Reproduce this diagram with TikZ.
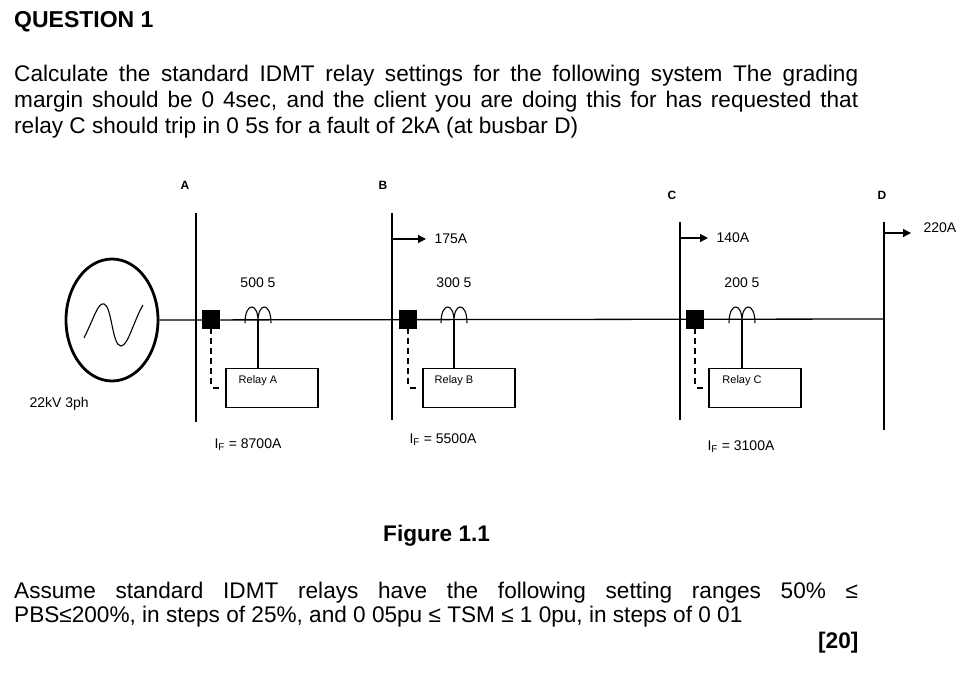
\documentclass[tikz,border=0pt]{standalone}
\usepackage{fontspec}
\setmainfont{Liberation Sans}
\usetikzlibrary{arrows.meta,shapes.geometric}
\begin{document}
\begin{tikzpicture}[x=1pt,y=-1pt,
  bus/.style={line width=2.4pt},
  wire/.style={line width=1.3pt},
  brk/.style={fill=black,draw=black,minimum width=17pt,minimum height=18pt,inner sep=0pt},
  relay/.style={draw,line width=1.1pt,minimum width=92pt,minimum height=39pt,inner sep=0pt},
  small/.style={font=\fontsize{14}{16}\selectfont},
  lbl/.style={font=\bfseries\fontsize{12}{14}\selectfont},
  body/.style={anchor=base west,inner sep=0pt,font=\fontsize{22.6}{26}\selectfont},
  load/.style={wire,-{Triangle[length=8pt,width=8pt]}}]
\useasboundingbox (0,0) rectangle (967,682);
% text
\node[body,font=\fontsize{23}{26}\selectfont\bfseries] (q) at (14,28) {QUESTION 1};
\node[body] (p1) at (14,82) {\makebox[844pt][s]{Calculate the standard IDMT relay settings for the following system  The grading}};
\node[body] (p2) at (14,108) {\makebox[844pt][s]{margin should be 0 4sec, and the client you are doing this for has requested that}};
\node[body] (p3) at (14,134) {relay C should trip in 0 5s for a fault of 2kA (at busbar D)};
\node[body,font=\fontsize{22.6}{26}\selectfont\bfseries] (fig) at (383,541) {Figure 1.1};
\node[body] (b1) at (14,598) {\makebox[844pt][s]{Assume  standard  IDMT  relays  have  the  following  setting  ranges  50\%  ≤}};
\node[body] (b2) at (14,622) {PBS≤200\%, in steps of 25\%, and 0 05pu ≤ TSM ≤ 1 0pu, in steps of 0 01};
\node[body,font=\fontsize{22.6}{26}\selectfont\bfseries] (mk) at (818,648) {[20]};
% generator
\node[draw,ellipse,line width=2.8pt,minimum width=92pt,minimum height=122pt,inner sep=0pt] (gen) at (112,320) {};
\draw[line width=1.1pt] (84,338) .. controls (94,318) and (98,302) .. (104,304) .. controls (112,306) and (112,346) .. (121,346) .. controls (128,346) and (134,320) .. (143,305);
\node[small,anchor=west] (kv) at (26,404) {22kV 3ph};
% busbars
\coordinate (At) at (196,213); \coordinate (Ab) at (196,422);
\coordinate (Bt) at (392,213); \coordinate (Bb) at (392,420);
\coordinate (Ct) at (680,222); \coordinate (Cb) at (680,420);
\coordinate (Dt) at (884,222); \coordinate (Db) at (884,430);
\draw[bus] (At)--(Ab); \draw[bus] (Bt)--(Bb); \draw[bus] (Ct)--(Cb); \draw[bus] (Dt)--(Db);
\node[lbl] (lA) at (185,185) {A};
\node[lbl] (lB) at (383,185) {B};
\node[lbl] (lC) at (672,195) {C};
\node[lbl] (lD) at (882,195) {D};
% main line
\coordinate (Dm) at (884,319);
\draw[wire] (gen.east) -- (Dm);
% loads
\coordinate (b1s) at (393,239); \coordinate (b1e) at (426,239);
\draw[load] (b1s) -- (b1e); \node[small,anchor=west] (l175) at (431,239) {175A};
\coordinate (c1s) at (681,238); \coordinate (c1e) at (708,238);
\draw[load] (c1s) -- (c1e); \node[small,anchor=west] (l140) at (713,238) {140A};
\coordinate (d1s) at (885,233); \coordinate (d1e) at (911,233);
\draw[load] (d1s) -- (d1e); \node[small,anchor=west] (l220) at (920,228) {220A};
% bays
\foreach \n/\bx/\cx/\rx/\ctv/\lab/\fx/\fy/\fv in {A/211/258/272/500 5/Relay A/248/445/8700A, B/408/454/469/300 5/Relay B/443/440/5500A, C/695/742/755/200 5/Relay C/741/447/3100A}{
  \node[brk] (br\n) at (\bx,319) {};
  \draw[line width=1.1pt] (\cx-13,323) .. controls (\cx-13,302) and (\cx,302) .. (\cx,321) .. controls (\cx,302) and (\cx+13,302) .. (\cx+13,323);
  \node[small] (ct\n) at (\cx,283) {\ctv};
  \node[relay] (rel\n) at (\rx,388) {};
  \node[font=\fontsize{11}{12}\selectfont] (rt\n) at (\cx,381) {\lab};
  \draw[line width=1.1pt] (\cx,319) -- (rel\n.north -| \cx,0);
  \draw[line width=1.1pt,dash pattern=on 6pt off 4pt] (br\n.south) -- (\bx,388);
  \draw[line width=1.1pt] (\bx+2,388) -- ++(6,0);
  \node[small] (if\n) at (\fx,\fy) {I\textsubscript{F} = \fv};
}
\end{tikzpicture}
\end{document}
